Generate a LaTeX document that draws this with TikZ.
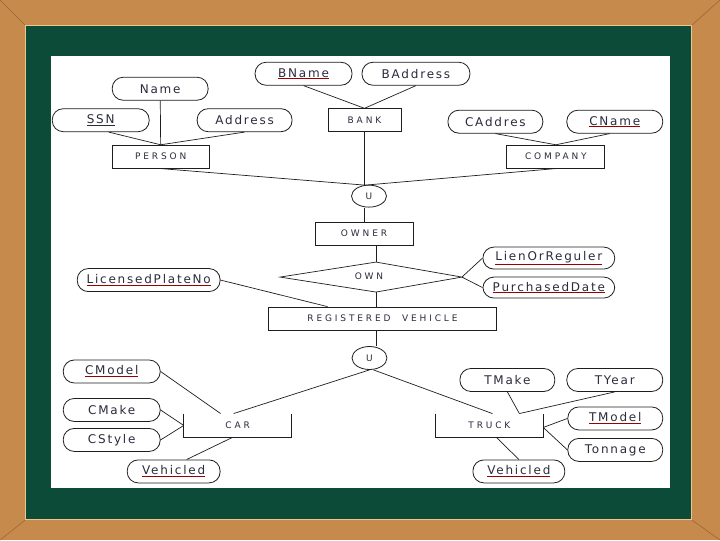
\documentclass[tikz,border=0pt]{standalone}
\usepackage{fontspec}
\usetikzlibrary{shapes.geometric}
\newfontfamily\attrfont[LetterSpace=15]{DejaVu Sans}
\newfontfamily\boxfont[LetterSpace=32]{DejaVu Sans}
\definecolor{wood}{HTML}{C68B4C}
\definecolor{wooddark}{HTML}{9C6532}
\definecolor{woodlight}{HTML}{E8C890}
\definecolor{board}{HTML}{0B4B37}
\definecolor{inkc}{HTML}{2A2C3C}
\definecolor{linec}{HTML}{1E1E1E}
\newcommand{\keyline}[1]{\underline{#1}}
\newcommand{\spellkey}[1]{\textcolor{red!60!black}{\underline{\textcolor{inkc}{#1}}}}
\tikzset{
  attrib/.style={draw=linec, line width=0.8pt, rounded corners=11pt, minimum width=96pt,
    minimum height=23pt, inner sep=0pt, text=inkc, font=\attrfont\fontsize{12}{14}\selectfont},
  entbox/.style={line width=0.8pt, minimum height=23pt, inner sep=0pt, text=inkc,
    font=\boxfont\fontsize{9}{10}\selectfont},
  link/.style={draw=linec, line width=0.7pt}
}
\begin{document}
\begin{tikzpicture}[x=1pt, y=-1pt]
    %Frame
    \fill[wood] (0,0) rectangle (720,540);
    \draw[wooddark, line width=0.6pt] (0,0) -- (25,25) (720,0) -- (692,25)
        (0,540) -- (25,520) (720,540) -- (692,520);
    \fill[board] (25,25) rectangle (692,520);
    \draw[woodlight, line width=1pt] (25,25) rectangle (692,520);
    \fill[white] (51,56) rectangle (670,488);
    %Person
    \node[entbox, draw=linec, minimum width=97pt] (person) at (160.5,156.5) {PERSON};
    \node[attrib] (name) at (160,88.5) {Name};
    \node[attrib, minimum width=97pt] (ssn) at (100.5,120) {\keyline{SSN}};
    \node[attrib, minimum width=95pt] (address) at (244.5,120) {Address};
    \draw[link] (name) -- (person.north);
    \draw[link] (ssn.south) ++(8,0) -- (person.north);
    \draw[link] (address.south) -- (person.north);
    %Bank
    \node[entbox, draw=linec, minimum width=73pt] (bank) at (364.5,120) {BANK};
    \node[attrib, minimum width=97pt] (bname) at (303.5,73.5) {\spellkey{BName}};
    \node[attrib, minimum width=108pt] (baddress) at (416,73.5) {BAddress};
    \draw[link] (bname.south) -- (bank.north);
    \draw[link] (baddress.south) -- (bank.north);
    %Company
    \node[entbox, draw=linec, minimum width=98pt] (company) at (556,156.5) {COMPANY};
    \node[attrib, minimum width=95pt] (caddres) at (495.5,121.5) {CAddres};
    \node[attrib] (cname) at (615,121.5) {\spellkey{CName}};
    \draw[link] (caddres.south) -- (company.north);
    \draw[link] (cname.south) ++(-5,0) -- (company.north);
    %Union of owners
    \node[draw=linec, line width=0.8pt, ellipse, minimum width=35pt, minimum height=22pt,
        inner sep=0pt, text=inkc, font=\boxfont\fontsize{9}{10}\selectfont] (uowner) at (369,196) {U};
    \coordinate (ujoin) at (365,185);
    \draw[link] (bank.south) -- (bank.south |- uowner.north);
    \draw[link] (person.south) -- (ujoin);
    \draw[link] (company.south) -- (ujoin);
    \node[entbox, draw=linec, minimum width=98pt] (owner) at (364,233.5) {OWNER};
    \draw[link] (uowner.south -| bank.south) -- (owner.north -| bank.south);
    %Own
    \coordinate (owntop) at (376,262);
    \coordinate (owneast) at (462,277);
    \coordinate (ownbottom) at (376,292);
    \coordinate (ownwest) at (280,277);
    \draw[link] (owntop) -- (owneast) -- (ownbottom) -- (ownwest) -- cycle;
    \node[entbox] (own) at (369,276) {OWN};
    \draw[link] (owntop) -- (owntop |- owner.south);
    \node[attrib, minimum width=132pt, minimum height=22pt] (lien) at (549,258) {\spellkey{LienOrReguler}};
    \node[attrib, minimum width=132pt, minimum height=21pt] (purch) at (549,287.5) {\spellkey{PurchasedDate}};
    \draw[link] (owneast) -- (lien.west);
    \draw[link] (owneast) -- (purch.west);
    %Registered vehicle
    \node[entbox, draw=linec, minimum width=229pt] (regveh) at (382.5,318.5) {REGISTERED\ \ VEHICLE};
    \draw[link] (ownbottom) -- (ownbottom |- regveh.north);
    \node[attrib, minimum width=143pt] (licplate) at (148.5,280) {\spellkey{LicensedPlateNo}};
    \draw[link] (licplate.east) -- ([xshift=60pt]regveh.north west);
    %Union of vehicles
    \node[draw=linec, line width=0.8pt, ellipse, minimum width=35pt, minimum height=23pt,
        inner sep=0pt, text=inkc, font=\boxfont\fontsize{9}{10}\selectfont] (uveh) at (369.5,358) {U};
    \draw[link] (ownbottom |- regveh.south) -- (ownbottom |- uveh.north);
    %Car
    \node[entbox, minimum width=107pt] (car) at (237.5,425.5) {CAR};
    \draw[link] (car.north west) -- (car.south west) -- (car.south east) -- (car.north east);
    \node[attrib, minimum width=97pt] (cmodel) at (111.5,371.5) {\spellkey{CModel}};
    \node[attrib, minimum width=97pt] (cmake) at (111.5,410) {CMake};
    \node[attrib, minimum width=97pt] (cstyle) at (111.5,440) {CStyle};
    \node[attrib, minimum width=93pt] (carvid) at (173.5,471.5) {\spellkey{Vehicled}};
    \draw[link] (uveh.south) -- ([xshift=-4pt]car.north);
    \draw[link] (cmodel.east) -- ([xshift=-17pt]car.north);
    \draw[link] (cmake.east) -- (car.west);
    \draw[link] (cstyle.east) -- (car.west);
    \draw[link] ([xshift=-5pt]car.south) -- ([xshift=13pt]carvid.north);
    %Truck
    \node[entbox, minimum width=107pt] (truck) at (489.5,425.5) {TRUCK};
    \draw[link] (truck.north west) -- (truck.south west) -- (truck.south east) -- (truck.north east);
    \node[attrib, minimum width=95pt] (tmake) at (507.5,380) {TMake};
    \node[attrib] (tyear) at (615,380) {TYear};
    \node[attrib, minimum width=95pt] (tmodel) at (615.5,418.5) {\spellkey{TModel}};
    \node[attrib, minimum width=95pt] (tonnage) at (615.5,450) {Tonnage};
    \node[attrib, minimum width=92pt] (truckvid) at (519,471.5) {\spellkey{Vehicled}};
    \draw[link] (uveh.south) ++(4,0) -- ([xshift=3pt]truck.north);
    \draw[link] (tmake.south) -- ([xshift=30pt]truck.north);
    \draw[link] (tyear.south) -- ([xshift=30pt]truck.north);
    \draw[link] (tmodel.west) -- ([yshift=-2pt]truck.east);
    \draw[link] (tonnage.west) -- ([yshift=-2pt]truck.east);
    \draw[link] ([xshift=7pt]truck.south) -- (truckvid.north);
\end{tikzpicture}
\end{document}
